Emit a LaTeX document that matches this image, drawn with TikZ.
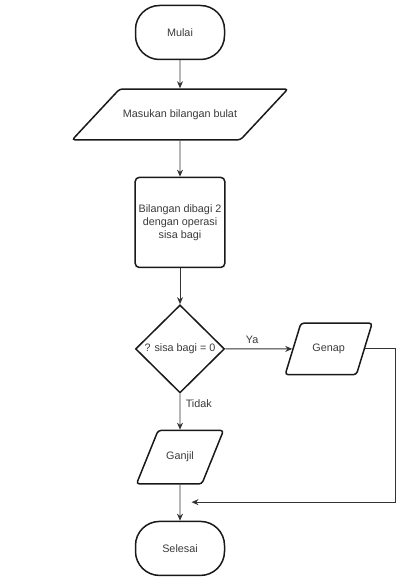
\documentclass[tikz,border=0pt]{standalone}
\usepackage{fontspec}
\setmainfont{Liberation Sans}
\usetikzlibrary{shapes.geometric,positioning,arrows.meta}
\definecolor{edgegray}{HTML}{333333}
\definecolor{labelgray}{HTML}{3a3a3a}

\begin{document}
\begin{tikzpicture}[x=1pt,y=1pt,>={Stealth[length=7pt,width=6pt]},node distance=36pt,
  font=\fontsize{10.8}{13}\selectfont,text=labelgray,
  terminal/.style={rectangle,rounded corners=24pt,draw=black!90,line width=1.5pt,minimum width=89pt,minimum height=54pt},
  process/.style={rectangle,rounded corners=4pt,draw=black!90,line width=1.5pt,minimum width=89pt,minimum height=90pt,align=center},
  decision/.style={diamond,draw=black!90,line width=1.5pt,minimum width=89pt,minimum height=88pt,inner sep=0pt},
  io/.style={trapezium,trapezium stretches body,draw=black!90,line width=1.5pt,rounded corners=3pt,
    text height=8pt,text depth=2.5pt,minimum height=0pt},
  flow/.style={->,line width=0.9pt,draw=edgegray}]

            \useasboundingbox (0,0) rectangle (405,-585);

            \node[terminal] (mulai) at (180,-32.5) {Mulai};
            \node[io,trapezium left angle=47,trapezium right angle=133,minimum width=203pt,inner ysep=20.2pt] (masukan) [below=28pt of mulai] {Masukan bilangan bulat};
            \node[process] (proses) [below=of masukan] {Bilangan dibagi 2\\dengan operasi\\sisa bagi};
            \node[decision] (cek) [below=of proses] {? sisa bagi = 0};
            \node[io,trapezium left angle=68,trapezium right angle=112,minimum width=87pt,inner ysep=21.5pt] (ganjil) [below=of cek] {Ganjil};
            \node[terminal] (selesai) [below=of ganjil] {Selesai};
            \node[io,trapezium left angle=73,trapezium right angle=107,minimum width=87pt,inner ysep=20.5pt] (genap) [right=67pt of cek] {Genap};
            \coordinate[below=17.5pt of ganjil.south,xshift=11.5pt] (gabung);

            \draw[flow] (mulai) -- (masukan);
            \draw[flow] (masukan) -- (proses);
            \draw[flow] (proses) -- (cek);
            \draw[flow] (cek) -- node[pos=0.4,above=2pt] {Ya} (genap);
            \draw[flow] (cek) -- node[pos=0.28,right=2pt] {Tidak} (ganjil);
            \draw[flow] (ganjil) -- (selesai);
            \draw[flow] (genap.east) -- ++(30,0) |- (gabung);

        \end{tikzpicture}
\end{document}
